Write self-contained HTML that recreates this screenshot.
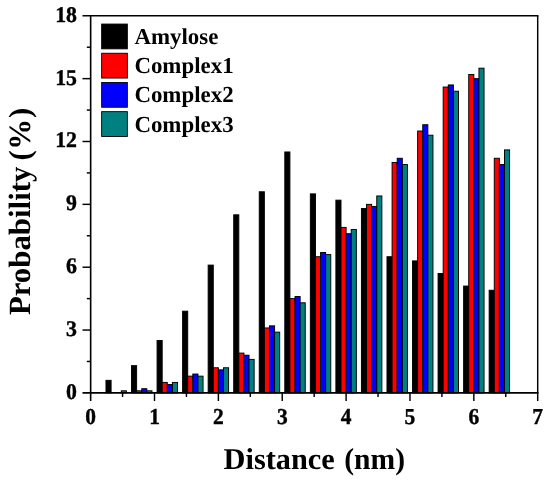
<!DOCTYPE html>
<html lang="en">
<head>
<meta charset="utf-8">
<title>Probability vs Distance</title>
<style>
html,body{margin:0;padding:0;background:#ffffff;}
body{width:550px;height:481px;overflow:hidden;}
svg{display:block;}
text{font-family:"Liberation Serif",serif;font-weight:bold;fill:#000;text-rendering:geometricPrecision;}
.tick{font-size:22.4px;stroke:#000;stroke-width:0.4px;}
.xt{font-size:22.8px;}
.leg{font-size:22.9px;}
.title{font-size:30.3px;}
</style>
</head>
<body>
<svg width="550" height="481" viewBox="0 0 550 481">
<rect x="0" y="0" width="550" height="481" fill="#ffffff"/>

<g stroke="#000" stroke-width="0.95">
<rect x="105.98" y="380.33" width="5.11" height="12.57" fill="#000000"/>
<rect x="121.30" y="390.80" width="5.11" height="2.10" fill="#008080"/>
<rect x="131.52" y="365.66" width="5.11" height="27.24" fill="#000000"/>
<rect x="136.63" y="390.80" width="5.11" height="2.10" fill="#ff0000"/>
<rect x="141.74" y="388.71" width="5.11" height="4.19" fill="#0000ff"/>
<rect x="146.85" y="390.80" width="5.11" height="2.10" fill="#008080"/>
<rect x="157.07" y="340.52" width="5.11" height="52.38" fill="#000000"/>
<rect x="162.18" y="382.42" width="5.11" height="10.48" fill="#ff0000"/>
<rect x="167.29" y="384.52" width="5.11" height="8.38" fill="#0000ff"/>
<rect x="172.40" y="382.42" width="5.11" height="10.48" fill="#008080"/>
<rect x="182.61" y="311.19" width="5.11" height="81.70" fill="#000000"/>
<rect x="187.72" y="376.14" width="5.11" height="16.76" fill="#ff0000"/>
<rect x="192.83" y="374.04" width="5.11" height="18.86" fill="#0000ff"/>
<rect x="197.94" y="376.14" width="5.11" height="16.76" fill="#008080"/>
<rect x="208.16" y="265.11" width="5.11" height="127.79" fill="#000000"/>
<rect x="213.27" y="367.76" width="5.11" height="25.14" fill="#ff0000"/>
<rect x="218.38" y="369.85" width="5.11" height="23.05" fill="#0000ff"/>
<rect x="223.49" y="367.76" width="5.11" height="25.14" fill="#008080"/>
<rect x="233.71" y="214.82" width="5.11" height="178.07" fill="#000000"/>
<rect x="238.82" y="353.09" width="5.11" height="39.81" fill="#ff0000"/>
<rect x="243.92" y="355.19" width="5.11" height="37.71" fill="#0000ff"/>
<rect x="249.03" y="359.38" width="5.11" height="33.52" fill="#008080"/>
<rect x="259.25" y="191.78" width="5.11" height="201.12" fill="#000000"/>
<rect x="264.36" y="327.95" width="5.11" height="64.94" fill="#ff0000"/>
<rect x="269.47" y="325.86" width="5.11" height="67.04" fill="#0000ff"/>
<rect x="274.58" y="332.14" width="5.11" height="60.75" fill="#008080"/>
<rect x="284.80" y="151.97" width="5.11" height="240.92" fill="#000000"/>
<rect x="289.91" y="298.62" width="5.11" height="94.27" fill="#ff0000"/>
<rect x="295.02" y="296.53" width="5.11" height="96.37" fill="#0000ff"/>
<rect x="300.12" y="302.81" width="5.11" height="90.08" fill="#008080"/>
<rect x="310.34" y="193.87" width="5.11" height="199.03" fill="#000000"/>
<rect x="315.45" y="256.73" width="5.11" height="136.17" fill="#ff0000"/>
<rect x="320.56" y="252.53" width="5.11" height="140.37" fill="#0000ff"/>
<rect x="325.67" y="254.63" width="5.11" height="138.27" fill="#008080"/>
<rect x="335.89" y="200.16" width="5.11" height="192.74" fill="#000000"/>
<rect x="341.00" y="227.39" width="5.11" height="165.50" fill="#ff0000"/>
<rect x="346.11" y="233.68" width="5.11" height="159.22" fill="#0000ff"/>
<rect x="351.22" y="229.49" width="5.11" height="163.41" fill="#008080"/>
<rect x="361.43" y="208.54" width="5.11" height="184.36" fill="#000000"/>
<rect x="366.54" y="204.35" width="5.11" height="188.55" fill="#ff0000"/>
<rect x="371.65" y="206.44" width="5.11" height="186.46" fill="#0000ff"/>
<rect x="376.76" y="195.97" width="5.11" height="196.93" fill="#008080"/>
<rect x="386.98" y="256.73" width="5.11" height="136.17" fill="#000000"/>
<rect x="392.09" y="162.45" width="5.11" height="230.45" fill="#ff0000"/>
<rect x="397.20" y="158.26" width="5.11" height="234.64" fill="#0000ff"/>
<rect x="402.31" y="164.54" width="5.11" height="228.35" fill="#008080"/>
<rect x="412.53" y="260.91" width="5.11" height="131.99" fill="#000000"/>
<rect x="417.64" y="131.02" width="5.11" height="261.88" fill="#ff0000"/>
<rect x="422.74" y="124.74" width="5.11" height="268.16" fill="#0000ff"/>
<rect x="427.85" y="135.21" width="5.11" height="257.69" fill="#008080"/>
<rect x="438.07" y="273.48" width="5.11" height="119.42" fill="#000000"/>
<rect x="443.18" y="87.03" width="5.11" height="305.87" fill="#ff0000"/>
<rect x="448.29" y="84.94" width="5.11" height="307.96" fill="#0000ff"/>
<rect x="453.40" y="91.22" width="5.11" height="301.68" fill="#008080"/>
<rect x="463.62" y="286.06" width="5.11" height="106.84" fill="#000000"/>
<rect x="468.73" y="74.46" width="5.11" height="318.44" fill="#ff0000"/>
<rect x="473.84" y="78.65" width="5.11" height="314.25" fill="#0000ff"/>
<rect x="478.94" y="68.18" width="5.11" height="324.72" fill="#008080"/>
<rect x="489.16" y="290.25" width="5.11" height="102.65" fill="#000000"/>
<rect x="494.27" y="158.26" width="5.11" height="234.64" fill="#ff0000"/>
<rect x="499.38" y="164.54" width="5.11" height="228.35" fill="#0000ff"/>
<rect x="504.49" y="149.88" width="5.11" height="243.02" fill="#008080"/>
</g>
<g stroke="#000" fill="none" stroke-linecap="butt">
<line x1="90.65" y1="15.00" x2="90.65" y2="401.00" stroke-width="1.6"/>
<line x1="82.50" y1="392.90" x2="538.50" y2="392.90" stroke-width="1.6"/>
<line x1="82.50" y1="15.80" x2="538.40" y2="15.80" stroke-width="1.45"/>
<line x1="537.70" y1="15.80" x2="537.70" y2="401.00" stroke-width="1.45"/>
<line x1="82.5" y1="330.05" x2="90.65" y2="330.05" stroke-width="1.45"/>
<line x1="82.5" y1="267.20" x2="90.65" y2="267.20" stroke-width="1.45"/>
<line x1="82.5" y1="204.35" x2="90.65" y2="204.35" stroke-width="1.45"/>
<line x1="82.5" y1="141.50" x2="90.65" y2="141.50" stroke-width="1.45"/>
<line x1="82.5" y1="78.65" x2="90.65" y2="78.65" stroke-width="1.45"/>
<line x1="86.8" y1="361.47" x2="90.65" y2="361.47" stroke-width="1.45"/>
<line x1="86.8" y1="298.62" x2="90.65" y2="298.62" stroke-width="1.45"/>
<line x1="86.8" y1="235.77" x2="90.65" y2="235.77" stroke-width="1.45"/>
<line x1="86.8" y1="172.92" x2="90.65" y2="172.92" stroke-width="1.45"/>
<line x1="86.8" y1="110.07" x2="90.65" y2="110.07" stroke-width="1.45"/>
<line x1="86.8" y1="47.22" x2="90.65" y2="47.22" stroke-width="1.45"/>
<line x1="154.51" y1="392.90" x2="154.51" y2="401" stroke-width="1.45"/>
<line x1="218.38" y1="392.90" x2="218.38" y2="401" stroke-width="1.45"/>
<line x1="282.24" y1="392.90" x2="282.24" y2="401" stroke-width="1.45"/>
<line x1="346.11" y1="392.90" x2="346.11" y2="401" stroke-width="1.45"/>
<line x1="409.97" y1="392.90" x2="409.97" y2="401" stroke-width="1.45"/>
<line x1="473.84" y1="392.90" x2="473.84" y2="401" stroke-width="1.45"/>
<line x1="122.58" y1="392.90" x2="122.58" y2="397" stroke-width="1.45"/>
<line x1="186.45" y1="392.90" x2="186.45" y2="397" stroke-width="1.45"/>
<line x1="250.31" y1="392.90" x2="250.31" y2="397" stroke-width="1.45"/>
<line x1="314.18" y1="392.90" x2="314.18" y2="397" stroke-width="1.45"/>
<line x1="378.04" y1="392.90" x2="378.04" y2="397" stroke-width="1.45"/>
<line x1="441.90" y1="392.90" x2="441.90" y2="397" stroke-width="1.45"/>
<line x1="505.77" y1="392.90" x2="505.77" y2="397" stroke-width="1.45"/>
</g>
<text class="tick" transform="translate(77.0,398.80) scale(0.975,1)" text-anchor="end">0</text>
<text class="tick" transform="translate(77.0,335.95) scale(0.975,1)" text-anchor="end">3</text>
<text class="tick" transform="translate(77.0,273.10) scale(0.975,1)" text-anchor="end">6</text>
<text class="tick" transform="translate(77.0,210.25) scale(0.975,1)" text-anchor="end">9</text>
<text class="tick" transform="translate(77.0,147.40) scale(0.975,1)" text-anchor="end">12</text>
<text class="tick" transform="translate(77.0,84.55) scale(0.975,1)" text-anchor="end">15</text>
<text class="tick" transform="translate(77.0,21.70) scale(0.975,1)" text-anchor="end">18</text>
<text class="tick xt" transform="translate(90.65,424.1) scale(0.94,1)" text-anchor="middle">0</text>
<text class="tick xt" transform="translate(154.51,424.1) scale(0.94,1)" text-anchor="middle">1</text>
<text class="tick xt" transform="translate(218.38,424.1) scale(0.94,1)" text-anchor="middle">2</text>
<text class="tick xt" transform="translate(282.24,424.1) scale(0.94,1)" text-anchor="middle">3</text>
<text class="tick xt" transform="translate(346.11,424.1) scale(0.94,1)" text-anchor="middle">4</text>
<text class="tick xt" transform="translate(409.97,424.1) scale(0.94,1)" text-anchor="middle">5</text>
<text class="tick xt" transform="translate(473.84,424.1) scale(0.94,1)" text-anchor="middle">6</text>
<text class="tick xt" transform="translate(537.70,424.1) scale(0.94,1)" text-anchor="middle">7</text>
<rect x="101.65" y="24.05" width="25.7" height="24.8" fill="#000000" stroke="#000" stroke-width="0.9"/>
<text class="leg" x="134.4" y="44.20">Amylose</text>
<rect x="101.65" y="53.25" width="25.7" height="24.8" fill="#ff0000" stroke="#000" stroke-width="0.9"/>
<text class="leg" x="134.4" y="73.40">Complex1</text>
<rect x="101.65" y="82.45" width="25.7" height="24.8" fill="#0000ff" stroke="#000" stroke-width="0.9"/>
<text class="leg" x="134.4" y="102.40">Complex2</text>
<rect x="101.65" y="111.65" width="25.7" height="24.8" fill="#008080" stroke="#000" stroke-width="0.9"/>
<text class="leg" x="134.4" y="131.60">Complex3</text>
<text class="title" x="223.6" y="469" style="word-spacing:2px">Distance <tspan textLength="60.8" lengthAdjust="spacingAndGlyphs">(nm)</tspan></text>
<text class="title" transform="translate(30.2,315.1) rotate(-90)" style="font-size:30.85px;word-spacing:-1.75px">Probability <tspan style="letter-spacing:0.7px">(%)</tspan></text>
</svg>
</body>
</html>
